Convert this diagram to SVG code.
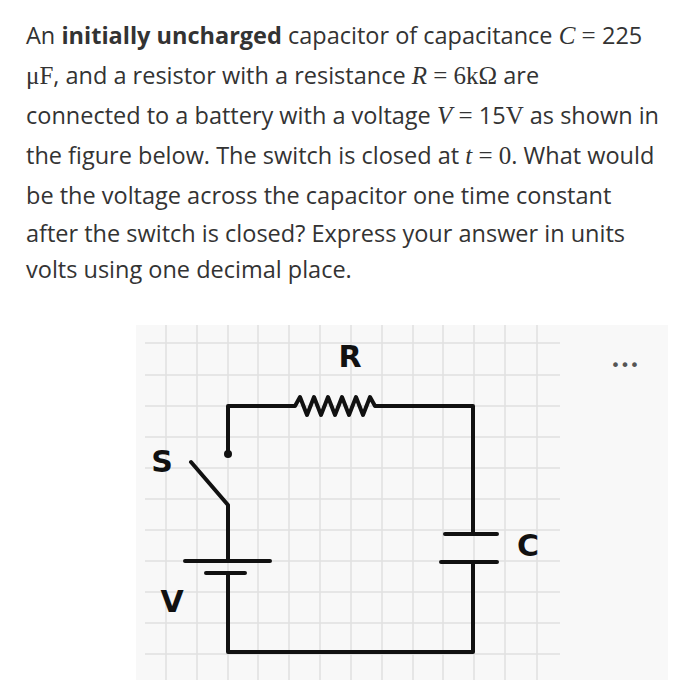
<svg xmlns="http://www.w3.org/2000/svg" width="696" height="700" viewBox="0 0 696 700">
<style>
.t{font-family:"Open Sans",sans-serif;font-size:23.5px;fill:#333}
.m{font-family:"Liberation Serif",serif;font-size:25px}
.i{font-style:italic}
.g line{stroke:#e0e0e0;stroke-width:1.5}
.w{fill:none;stroke:#111;stroke-width:4;stroke-linecap:round;stroke-linejoin:round}
.lb{font-family:"DejaVu Sans",sans-serif;font-weight:bold;font-size:30px;fill:#111;text-anchor:middle}
</style>
<rect width="696" height="700" fill="#fff"/>
<g id="text">
<text class="t" x="26" y="44">An <tspan font-weight="bold">initially uncharged</tspan> capacitor of capacitance <tspan class="m i">C</tspan><tspan class="m"> = </tspan>225</text>
<text class="t" x="26" y="84"><tspan class="m">μF</tspan>, and a resistor with a resistance <tspan class="m i">R</tspan><tspan class="m"> = 6kΩ</tspan> are</text>
<text class="t" x="26" y="124">connected to a battery with a voltage <tspan class="m i">V</tspan><tspan class="m"> = </tspan>15<tspan class="m">V</tspan> as shown in</text>
<text class="t" x="26" y="164">the figure below. The switch is closed at <tspan class="m i">t</tspan><tspan class="m"> = 0</tspan>. What would</text>
<text class="t" x="26" y="204">be the voltage across the capacitor one time constant</text>
<text class="t" x="26" y="242">after the switch is closed? Express your answer in units</text>
<text class="t" x="26" y="278">volts using one decimal place.</text>
</g>
<g id="panel">
<rect x="136" y="325" width="532" height="355" fill="#f8f8f8"/>
<g class="g">
<line x1="166" y1="325" x2="166" y2="680"/><line x1="197" y1="325" x2="197" y2="680"/><line x1="228" y1="325" x2="228" y2="680"/><line x1="258" y1="325" x2="258" y2="680"/><line x1="289" y1="325" x2="289" y2="680"/><line x1="320" y1="325" x2="320" y2="680"/><line x1="351" y1="325" x2="351" y2="680"/><line x1="382" y1="325" x2="382" y2="680"/><line x1="413" y1="325" x2="413" y2="680"/><line x1="443" y1="325" x2="443" y2="680"/><line x1="474" y1="325" x2="474" y2="680"/><line x1="505" y1="325" x2="505" y2="680"/><line x1="537" y1="325" x2="537" y2="680"/>
<line x1="145" y1="343" x2="560" y2="343"/><line x1="145" y1="375" x2="560" y2="375"/><line x1="145" y1="406" x2="560" y2="406"/><line x1="145" y1="437" x2="560" y2="437"/><line x1="145" y1="468" x2="560" y2="468"/><line x1="145" y1="499" x2="560" y2="499"/><line x1="145" y1="530" x2="560" y2="530"/><line x1="145" y1="561" x2="560" y2="561"/><line x1="145" y1="592" x2="560" y2="592"/><line x1="145" y1="623" x2="560" y2="623"/><line x1="145" y1="654" x2="560" y2="654"/>
</g>
<text x="625" y="371" font-family="DejaVu Sans,sans-serif" font-size="16" fill="#555" text-anchor="middle">•••</text>
</g>
<g id="connectors">
<path class="w" d="M228 454 V406 H295 l5 -9 l7 18 l7 -18 l7 18 l7 -18 l7 18 l7 -18 l7 18 l7 -18 l7 18 l7 -18 l5 9 H473 V534"/>
<path class="w" d="M473 562 V652 H228 V573"/>
<path class="w" d="M228 561 V505 L191 462"/>
</g>
<g id="switch"><circle cx="228" cy="454" r="4" fill="#111"/><text class="lb" x="162" y="472">S</text></g>
<g id="resistor"><text class="lb" x="350" y="367">R</text></g>
<g id="battery"><path class="w" d="M185 561 H270 M206 573 H245"/><text class="lb" x="172" y="612">V</text></g>
<g id="capacitor"><path class="w" d="M445 534 H497 M441 562 H497"/><text class="lb" x="528" y="556">C</text></g>
</svg>
